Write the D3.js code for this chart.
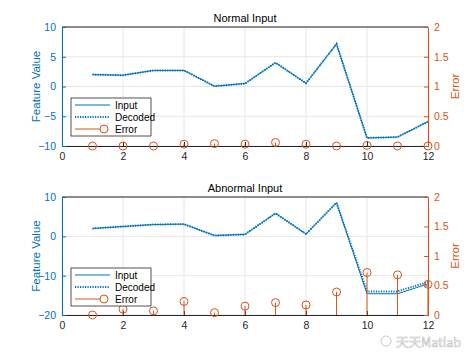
<!DOCTYPE html>
<html><head><meta charset="utf-8">
<script src="https://cdn.jsdelivr.net/npm/d3@7"></script>
<style>body{margin:0;background:#fff}svg{display:block;font-family:"Liberation Sans",Arial,sans-serif}</style>
</head><body><svg id="c" width="474" height="355"></svg>
<script>
const xs = [1,2,3,4,5,6,7,8,9,10,11,12];
const normalInput   = [2.0,1.9,2.7,2.7,0.05,0.5,4.0,0.55,7.15,-8.65,-8.5,-5.9];
const normalDecoded = [2.0,1.9,2.7,2.7,0.05,0.5,4.0,0.55,7.15,-8.65,-8.5,-5.9];
const normalError   = [0.0,0.0,0.0,0.03,0.04,0.03,0.06,0.03,0.0,0.01,0.0,0.0];
const abnInput   = [2.0,2.5,3.0,3.1,0.2,0.5,5.85,0.6,8.55,-14.6,-14.6,-12.1];
const abnDecoded = [2.0,2.5,3.0,3.1,0.2,0.5,5.85,0.6,8.55,-14.0,-14.0,-11.6];
const abnError   = [0.0,0.1,0.07,0.23,0.04,0.15,0.21,0.17,0.39,0.72,0.68,0.52];
const xTicks = [0,2,4,6,8,10,12];
const errTicks = [0,0.5,1,1.5,2];
const topYTicks = [-10,-5,0,5,10];
const botYTicks = [-20,-10,0,10];

const BLUE="#0072BD", ORANGE="#D95319", GRID="#e6e6e6", AX="#262626";
const svg = d3.select("#c");
const L=62, R=428;
const fmt = d3.format("~g");

function panel(opt){
  const g = svg.append("g");
  const x = d3.scaleLinear().domain([0,12]).range([L,R]);
  const y = d3.scaleLinear().domain(opt.yDom).range([opt.bot,opt.top]);
  const y2 = d3.scaleLinear().domain([0,2]).range([opt.bot,opt.top]);
  g.selectAll(".gx").data(xTicks).enter().append("line")
    .attr("x1",d=>x(d)).attr("x2",d=>x(d)).attr("y1",opt.top).attr("y2",opt.bot)
    .attr("stroke",GRID).attr("stroke-width",1);
  g.selectAll(".gy").data(opt.yTicks).enter().append("line")
    .attr("x1",L).attr("x2",R).attr("y1",d=>y(d)).attr("y2",d=>y(d))
    .attr("stroke",GRID).attr("stroke-width",1);
  g.append("line").attr("x1",L).attr("x2",R).attr("y1",opt.top).attr("y2",opt.top).attr("stroke",AX);
  const ax = g.append("g").attr("transform",`translate(0,${opt.bot})`)
    .call(d3.axisBottom(x).tickValues(xTicks).tickFormat(fmt).tickSize(-4).tickPadding(7));
  ax.select(".domain").attr("stroke",AX);
  ax.selectAll(".tick line").attr("stroke",AX);
  ax.selectAll("text").attr("fill",AX).style("font-size","10.5px").style("font-family","Liberation Sans, Arial");
  const ay = g.append("g").attr("transform",`translate(${L},0)`)
    .call(d3.axisLeft(y).tickValues(opt.yTicks).tickFormat(fmt).tickSize(-4).tickPadding(6));
  ay.select(".domain").attr("stroke",BLUE);
  ay.selectAll(".tick line").attr("stroke",BLUE);
  ay.selectAll("text").attr("fill",BLUE).style("font-size","10.5px").style("font-family","Liberation Sans, Arial");
  const ay2 = g.append("g").attr("transform",`translate(${R},0)`)
    .call(d3.axisRight(y2).tickValues(errTicks).tickFormat(fmt).tickSize(-4).tickPadding(6));
  ay2.select(".domain").attr("stroke",ORANGE);
  ay2.selectAll(".tick line").attr("stroke",ORANGE);
  ay2.selectAll("text").attr("fill",ORANGE).style("font-size","10.5px").style("font-family","Liberation Sans, Arial");
  g.append("text").attr("transform",`translate(40,${(opt.top+opt.bot)/2}) rotate(-90)`)
    .attr("text-anchor","middle").attr("fill",BLUE).style("font-size","11.5px").text("Feature Value");
  g.append("text").attr("transform",`translate(459,${(opt.top+opt.bot)/2}) rotate(-90)`)
    .attr("text-anchor","middle").attr("fill",ORANGE).style("font-size","11.5px").text("Error");
  g.append("text").attr("x",(L+R)/2).attr("y",opt.top-5).attr("text-anchor","middle")
    .attr("fill","#000").style("font-size","11px").text(opt.title);
  const line = d3.line().x((d,i)=>x(xs[i])).y(d=>y(d));
  g.append("path").datum(opt.input).attr("d",line).attr("fill","none").attr("stroke",BLUE).attr("stroke-width",1);
  g.append("path").datum(opt.decoded).attr("d",line).attr("fill","none").attr("stroke",BLUE)
    .attr("stroke-width",2).attr("stroke-dasharray","1.2,1.3");
  g.selectAll(".st").data(opt.err).enter().append("line")
    .attr("x1",(d,i)=>x(xs[i])).attr("x2",(d,i)=>x(xs[i])).attr("y1",y2(0)).attr("y2",d=>y2(d))
    .attr("stroke",ORANGE).attr("stroke-width",1);
  g.selectAll(".ci").data(opt.err).enter().append("circle")
    .attr("cx",(d,i)=>x(xs[i])).attr("cy",d=>y2(d)).attr("r",4)
    .attr("fill","none").attr("stroke",ORANGE).attr("stroke-width",1);
  const lg = g.append("g").attr("transform",`translate(71,${opt.leg})`);
  lg.append("rect").attr("width",80).attr("height",38).attr("fill","#fff").attr("stroke",AX).attr("stroke-width",0.8);
  const items=[["Input","solid"],["Decoded","dot"],["Error","stem"]];
  items.forEach((it,i)=>{
    const yy=7+i*12;
    const ln=lg.append("line").attr("x1",4).attr("x2",39).attr("y1",yy).attr("y2",yy);
    if(it[1]==="solid") ln.attr("stroke",BLUE).attr("stroke-width",1);
    else if(it[1]==="dot") ln.attr("stroke",BLUE).attr("stroke-width",2).attr("stroke-dasharray","1.2,1.3");
    else { ln.attr("stroke",ORANGE).attr("stroke-width",1).attr("x2",29);
      lg.append("circle").attr("cx",33).attr("cy",yy).attr("r",4).attr("fill","none").attr("stroke",ORANGE); }
    lg.append("text").attr("x",44).attr("y",yy+3.5).attr("fill","#000").style("font-size","10px").text(it[0]);
  });
}
panel({top:27,bot:146,yDom:[-10,10],yTicks:topYTicks,title:"Normal Input",input:normalInput,decoded:normalDecoded,err:normalError,leg:98});
panel({top:197,bot:315,yDom:[-20,10],yTicks:botYTicks,title:"Abnormal Input",input:abnInput,decoded:abnDecoded,err:abnError,leg:268});
svg.append("text").attr("x",396).attr("y",347).attr("text-anchor","start")
  .attr("fill","#ffffff").attr("stroke","#bdbdbd").attr("stroke-width",0.6).attr("opacity",0.9)
  .style("font-size","12.5px").style("font-family","Noto Sans CJK SC").text("天天Matlab");
svg.append("circle").attr("cx",386).attr("cy",341).attr("r",5).attr("fill","none").attr("stroke","#c8c8c8");
</script></body></html>
